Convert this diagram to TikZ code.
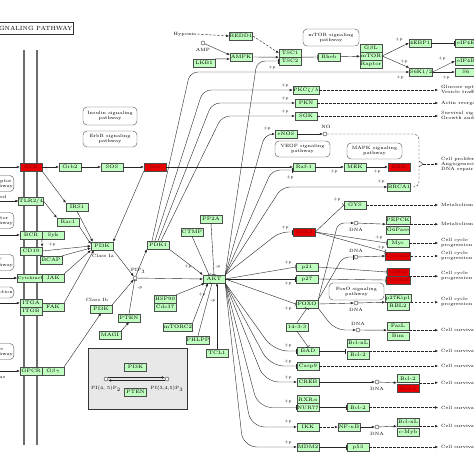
\documentclass[tikz,border=0pt]{standalone}
\usepackage{amsmath}
\usepackage{tikz}
\usetikzlibrary{arrows.meta}
\usetikzlibrary{calc}
\usepackage{xcolor}

\definecolor{keggfill}{RGB}{191,255,191}
\definecolor{keggred}{RGB}{230,0,0}
\definecolor{keggredtxt}{RGB}{140,0,0}

\tikzset{
  gene/.style={draw=black!70, fill=keggfill, minimum width=22pt, minimum height=8pt, inner sep=0.3pt, font=\fontsize{5}{5}\selectfont},
  hit/.style={gene, fill=keggred, text=keggredtxt},
  pw/.style={draw=black!70, fill=white, rounded corners=4pt, align=center, minimum height=16pt, inner sep=1pt, font=\fontsize{4.6}{5.2}\selectfont},
  cpd/.style={circle, draw=black!80, fill=white, inner sep=0pt, minimum size=4pt},
  tag/.style={font=\fontsize{4}{4.5}\selectfont, inner sep=0.3pt},
  txt/.style={font=\fontsize{4.6}{5}\selectfont, inner sep=0.5pt, align=center},
  outtxt/.style={font=\fontsize{4.6}{5}\selectfont, anchor=west, inner ysep=0.5pt, inner xsep=3pt, align=left},
  act/.style={draw=black!85, line width=0.4pt, -{Latex[length=3pt,width=2.6pt]}},
  inh/.style={draw=black!85, line width=0.4pt, -{Bar[width=5pt]}},
  indir/.style={act, dash pattern=on 2.5pt off 1.5pt},
  memb/.style={draw=gray!85!black, line width=1.3pt}
}

\begin{document}
\begin{tikzpicture}[x=1pt, y=-1pt]

    \useasboundingbox (0,0) rectangle (474,474);
    \clip (0,0) rectangle (474,474);

    % cell membrane
    \draw[memb] (24,50) -- (24,445);
    \draw[memb] (37,50) -- (37,445);

    \node[draw=black!80, line width=0.8pt, anchor=east, minimum height=12pt, inner sep=1pt, font=\fontsize{6}{6}\selectfont] (title) at (74,28) {PI3K-AKT SIGNALING PATHWAY\hspace{12pt}};

    % linked maps
    \node[pw, minimum width=54pt, minimum height=18pt] (insulin) at (110,116) {Insulin signaling\\pathway};
    \node[pw, minimum width=54pt] (erbb) at (110,139) {ErbB signaling\\pathway};
    \node[pw, minimum width=56pt, minimum height=17pt] (mtorpw) at (331,37.5) {mTOR signaling\\pathway};
    \node[pw, minimum width=55pt] (vegf) at (302.5,149) {VEGF signaling\\pathway};
    \node[pw, minimum width=55pt] (mapk) at (374.5,151) {MAPK signaling\\pathway};
    \node[pw, minimum width=55pt, minimum height=17pt] (foxopw) at (356.5,291.5) {FoxO signaling\\pathway};
    \node[pw, anchor=east] (tlrpw) at (14,183.5) {Toll-like receptor\\signaling pathway};
    \node[pw, anchor=east] (bcrpw) at (14,220.5) {B cell receptor\\signaling pathway};
    \node[pw, anchor=east] (jakpw) at (14,262.5) {Jak-STAT\\signaling pathway};
    \node[pw, anchor=east, minimum height=11pt] (ecmpw) at (14,292.5) {ECM-receptor interaction};
    \node[pw, anchor=east] (chemopw) at (14,351.5) {Chemokine\\signaling pathway};

    % legend
    \draw[draw=gray!40!black, fill=gray!18, line width=1pt] (88,348) rectangle (187,409);
    \node[gene] (lpi3k) at (135.5,367) {PI3K};
    \node[gene] (lpten) at (135.5,392) {PTEN};
    \node[cpd] (lpip2) at (106,379) {};
    \node[cpd] (lpip3) at (167,379) {};
    \node[txt] (lpip2lab) at (106,389) {PI(4, 5)P$_2$};
    \node[txt] (lpip3lab) at (167,389) {PI(3,4,5)P$_3$};
    \draw[act] ([yshift=1.5pt]lpip2.east) -- ([yshift=1.5pt]lpip3.west);
    \draw[act] ([yshift=-1.5pt]lpip3.west) -- ([yshift=-1.5pt]lpip2.east);

    % genes
    \foreach \n/\x/\y/\t in {redd1/241/36/REDD1, ampk/241/57/AMPK, lkb1/204/63/LKB1, tsc1/290/53/TSC1, tsc2/290/61/TSC2,
        rheb/329/57/Rheb, gbl/371/48/G$\beta$L, mtor/371/56/mTOR, raptor/371/64/Raptor, ebp/420/43/4EBP1,
        eif4e/466/43/eIF4E, eif4b/466/61/eIF4B, s6/466/72/S6, s6k/421/72/{S6K1/2}, pkc/306/90/{PKC$\zeta/\lambda$},
        pkn/306/103/PKN, sgk/306/116/SGK, enos/286/134/eNOS, grb2/70/167/Grb2, sos/112/167/SOS,
        raf/304/167/Raf-1, mek/355/167/MEK, brca1/399/187/BRCA1, tlr/31/201/{TLR2/4}, irs1/77/207/IRS1,
        rac1/68/222/Rac1, bcr/31/235/BCR, syk/53/235/Syk, cd19/31/251/CD19, bcap/51/260/BCAP,
        pi3ka/102/246/PI3K, ckr/31/278/{\fontsize{4.2}{4.2}\selectfont CytokineR}, jak/53/278/JAK, itga/31/303/ITGA, itgb/31/311/ITGB,
        fak/53/307/FAK, gpcr/31/371/GPCR, gbg/53/371/G$\beta\gamma$, pi3kb/101/309/PI3K, pten/129/318/PTEN,
        magi/110/335/MAGI, pdk1/158/245/PDK1, akt/214/279/AKT, ctmp/192/232/CTMP, pp2a/211/219/PP2A,
        hsp90/165/299/HSP90, cdc37/165/307/Cdc37, mtorc2/178/327/mTORC2, phlpp/198/340/PHLPP, tcl1/217/353/TCL1,
        gys/355/205/GYS, pepck/398/220/PEPCK, g6pase/398/230/G6Pase, myc/398/243/Myc, p21/307/267/p21,
        p27/307/279/p27, p27k/398/298/p27Kip1, rbl2/398/306/RBL2, foxo/307/304/FOXO, x1433/297/327/14-3-3,
        fasl/398/326/FasL, bim/398/336/Bim, bad/308/351/BAD, bclxl/358/343/Bcl-xL, bcla/358/355/Bcl-2,
        casp9/308/366/Casp9, creb/308/382/CREB, bclb/408/378.5/Bcl-2, rxr/308/399.5/RXR$\alpha$, nur77/308/407.5/NUR77,
        bclc/358/407.5/Bcl-2, ikk/308/427/IKK, nfkb/349/427/NF-$\kappa$B, bclxlb/408/422/Bcl-xL, cmyb/408/432/c-Myb,
        mdm2/308/447/MDM2, p53/358/447/p53}
    \node[gene] (\n) at (\x,\y) {\t};

    \foreach \n/\x/\y/\t in {rtk/31/167/RTK, ras/155/167/Ras, erk/399/167/ERK, gsk3/304/232/GSK3,
        ccnd/398/256/CyclinD, cdk/398/272/CDK2, ccne/398/280/CyclinE, mcl1/408/388.5/Mcl-1}
    \node[hit] (\n) at (\x,\y) {\t};

    % compounds
    \foreach \n/\x/\y in {amp/203/43, no/325/134, pip3/135/278, dna1/356/223, dna2/356/257,
        dna3/356/303, dna4/358/330, dna5/377/382, dna6/377/427}
    \node[cpd] (\n) at (\x,\y) {};

    \foreach \t/\x/\y [count=\i] in {AMP/203/50, NO/326/127, PIP$_3$/138/271, DNA/356/230, DNA/356/251,
        DNA/356/310, DNA/358/324, DNA/377/389, DNA/377/434}
    \node[txt] (clab\i) at (\x,\y) {\t};

    \node[txt] (hypoxia) at (185,34) {Hypoxia};
    \node[txt] (classa) at (103,256) {Class Ia};
    \node[txt] (classb) at (97,300) {Class Ib};
    \node[txt, anchor=east] (frag1) at (7,197) {ed};
    \node[txt, anchor=east] (frag2) at (6,377) {ms};

    % outcomes
    \foreach \t/\y [count=\i] in {{Glucose uptake\\Vesicle trafficking}/90, {Actin reorganization}/103,
        {Survival signals\\Growth and proliferation}/116, {Cell proliferation\\Angiogenesis\\DNA repair}/164,
        Metabolism/205, Metabolism/224, {Cell cycle\\progression}/243, {Cell cycle\\progression}/256,
        {Cell cycle\\progression}/276, {Cell cycle\\progression}/302, {Cell survival}/330, {Cell survival}/351,
        {Cell survival}/366, {Cell survival}/382.5, {Cell survival}/407.5, {Cell survival}/426, {Cell survival}/447}
    \node[outtxt] (out\i) at (438,\y) {\t};

    % phosphorylation marks
    \foreach \x/\y [count=\i] in {52/245, 188/267, 272/68, 267/129, 285/86, 285/99, 285/112, 290/178, 285/228,
        288/263, 288/284, 288/309, 288/346, 288/362, 288/378, 288/402, 288/422, 288/443, 381/182, 399/40,
        404/62, 400/78, 442/59, 446/78, 334/172, 377/172, 337/200, 379/238, 381/248, 202/295}
    \node[tag] (pp\i) at (\x,\y) {+p};
    \foreach \x/\y [count=\i] in {218/267, 213/301, 140/288}
    \node[tag] (mp\i) at (\x,\y) {-p};

    % inputs across the membrane
    \foreach \n/\y in {rtk/167, tlr/201, bcr/235, ckr/278, itga/303, gpcr/371} {
        \coordinate (src-\n) at (-1,\y);
        \draw[act] (src-\n) -- (\n.west);
    }

    % receptor side
    \draw[act] (rtk) -- (grb2);
    \draw[act] (grb2) -- (sos);
    \draw[act] (sos) -- (ras);
    \draw[act] (ras) -- (raf);
    \draw[act] (raf) -- (mek);
    \draw[act] (mek) -- (erk);
    \draw[act] (rtk.south east) -- (irs1.north west);
    \draw[act] (irs1.south) -- ([xshift=2pt]pi3ka.north west);
    \draw[act] (tlr.east) -- (rac1.north west);
    \draw[act] (rac1.south east) -- ([yshift=2pt]pi3ka.west);
    \draw[act] (ras.south west) -- (pi3ka.north east);
    \draw[act] (syk.south west) -- (cd19.north east);
    \draw[act] (cd19.east) -- (pi3ka.west);
    \draw[act] (bcap.north east) -- ([yshift=-2pt]pi3ka.west);
    \draw[act] (jak.north east) -- (pi3ka.south west);
    \draw[act] (fak.north east) -- ([xshift=3pt]pi3ka.south west);
    \draw[act] (gbg.north east) -- (pi3kb.south);
    \draw[act] (pi3ka.south east) -- (pip3);
    \draw[act] (pi3kb.north east) -- (pip3);
    \draw[inh] (pten.north) -- (pip3);
    \draw[act] (magi.north east) -- (pten.south);
    \draw[act] (pip3) -- (pdk1.south west);
    \draw[act] (pip3) -- (akt.west);

    % around AKT
    \draw[act] (pdk1.south east) -- (akt.north west);
    \draw[inh] (ctmp.south) -- ([xshift=-5pt]akt.north);
    \draw[inh] (pp2a.south) -- (akt.north);
    \draw[act] (hsp90.north east) -- ([xshift=2pt]akt.south west);
    \draw[act] (mtorc2.north east) -- ([xshift=5pt]akt.south west);
    \draw[inh] (phlpp.north) -- ([xshift=-2pt]akt.south);
    \draw[act] (tcl1.north) -- (tcl1.north |- akt.south);

    % PDK1 targets
    \draw[act, rounded corners=8pt] ([xshift=-6pt]pdk1.north) -- (190,72) -- (s6k.west);
    \draw[act, rounded corners=8pt] ([xshift=-3pt]pdk1.north) -- (203,90) -- (pkc.west);
    \draw[act, rounded corners=8pt] (pdk1.north) -- (212,103) -- (pkn.west);
    \draw[act, rounded corners=8pt] ([xshift=3pt]pdk1.north) -- (222,116) -- (sgk.west);

    % AKT targets
    \draw[inh, rounded corners=8pt] (akt.north east) -- (257,61) -- (tsc2.west);
    \draw[act, rounded corners=8pt] (akt.north east) -- (265,134) -- (enos.west);
    \draw[inh, rounded corners=8pt] (akt.north east) -- (272,170) -- ([yshift=-3pt]raf.west);
    \draw[act, rounded corners=8pt] (akt.north east) -- (282,187) -- (brca1.west);
    \draw[inh, rounded corners=8pt] (akt.north east) -- (280,232) -- (gsk3.west);
    \draw[inh] (akt.east) -- (p21.west);
    \draw[inh] (akt.east) -- (p27.west);
    \draw[inh] (akt.east) -- (foxo.west);
    \draw[inh, rounded corners=14pt] (akt.south east) -- (274,351) -- (bad.west);
    \draw[inh, rounded corners=14pt] (akt.south east) -- (270,366) -- (casp9.west);
    \draw[act, rounded corners=14pt] (akt.south east) -- (265,382) -- (creb.west);
    \draw[inh, rounded corners=14pt] (akt.south east) -- (258,407.5) -- (nur77.west);
    \draw[act, rounded corners=14pt] (akt.south east) -- (251,427) -- (ikk.west);
    \draw[act, rounded corners=14pt] (akt.south east) -- (243,447) -- (mdm2.west);

    % mTOR branch
    \draw[indir] (hypoxia.east) -- (redd1.west);
    \draw[indir] (redd1.east) -- (tsc1.west);
    \draw[act] (amp) -- ([yshift=2pt]ampk.west);
    \draw[act] (lkb1.north east) -- ([yshift=-2pt]ampk.west);
    \draw[act] (ampk.east) -- (tsc1.south west);
    \draw[inh] (tsc1.south east) -- (rheb.west);
    \draw[act] (rheb) -- (mtor);
    \draw[act] (mtor.east) -- (ebp.west);
    \draw[act] (mtor.east) -- (s6k.north west);
    \draw[inh] (ebp) -- (eif4e);
    \draw[act] (s6k.east) -- (eif4b.west);
    \draw[act] (s6k.east) -- (s6.west);
    \draw[act] (enos) -- (no);

    % NO / ERK / BRCA1 bracket
    \coordinate (brace) at (423,164);
    \draw[draw=black!85, line width=0.4pt, dash pattern=on 2.5pt off 1.5pt, rounded corners=5pt] (no.east) -- (419,134) -- (419,187) -- (brca1.east);
    \draw[draw=black!85, line width=0.4pt] (419,161) -- (brace) -- (419,167);

    % GSK3 / FOXO targets
    \draw[inh] (gsk3.east) -- (gys.west);
    \draw[inh] (gsk3.east) -- (myc.west);
    \draw[inh] (gsk3.east) -- (ccnd.north west);
    \draw[inh] (p21.east) -- (cdk.west);
    \draw[inh] (p27.east) -- (ccne.west);
    \draw[act, rounded corners=6pt] (foxo.north east) -- (338,223) -- (dna1);
    \draw[inh, rounded corners=6pt] (foxo.north east) -- (343,257) -- (dna2);
    \draw[act] (foxo.east) -- (dna3);
    \draw[act, rounded corners=10pt] (foxo.south east) -- (335,330) -- (dna4);
    \draw[act] (dna1) -- (pepck.south west);
    \draw[act] (dna2) -- (ccnd.west);
    \draw[act] (dna3) -- (p27k.south west);
    \draw[act] (dna4) -- (fasl.south west);
    \draw[inh] (x1433.north) -- (foxo.south);
    \draw[inh] (x1433.south) -- (bad.north);

    % survival side
    \draw[inh] (bad.east) -- ([xshift=-1pt]bad.east -| bclxl.west);
    \draw[act] (creb) -- (dna5);
    \draw[act] (dna5) -- (bclb.south west);
    \draw[inh] (nur77.east) -- (bclc.west);
    \draw[indir] (ikk) -- (nfkb);
    \draw[act] (nfkb) -- (dna6);
    \draw[act] (dna6) -- (bclxlb.south west);
    \draw[inh] (mdm2) -- (p53);

    % to outcomes
    \draw[indir] (pkc.east) -- (pkc.east -| out1.west);
    \draw[indir] (pkn.east) -- (pkn.east -| out2.west);
    \draw[indir] (sgk.east) -- (sgk.east -| out3.west);
    \draw[indir] (brace) -- (brace -| out4.west);
    \draw[indir] (gys.east) -- (gys.east -| out5.west);
    \draw[indir] (pepck.south east) -- (pepck.south east -| out6.west);
    \draw[indir] (myc.east) -- (myc.east -| out7.west);
    \draw[indir] (ccnd.east) -- (ccnd.east -| out8.west);
    \draw[indir] (cdk.south east) -- (cdk.south east -| out9.west);
    \draw[indir] (p27k.south east) -- (p27k.south east -| out10.west);
    \draw[indir] (fasl.south east) -- (fasl.south east -| out11.west);
    \draw[indir] (bad.east -| bclxl.east) -- (bad.east -| out12.west);
    \draw[indir] (casp9.east) -- (casp9.east -| out13.west);
    \draw[indir] (bclb.south east) -- (bclb.south east -| out14.west);
    \draw[indir] (bclc.east) -- (bclc.east -| out15.west);
    \draw[indir] (bclxlb.south east) -- (bclxlb.south east -| out16.west);
    \draw[indir] (p53.east) -- (p53.east -| out17.west);

\end{tikzpicture}
\end{document}
